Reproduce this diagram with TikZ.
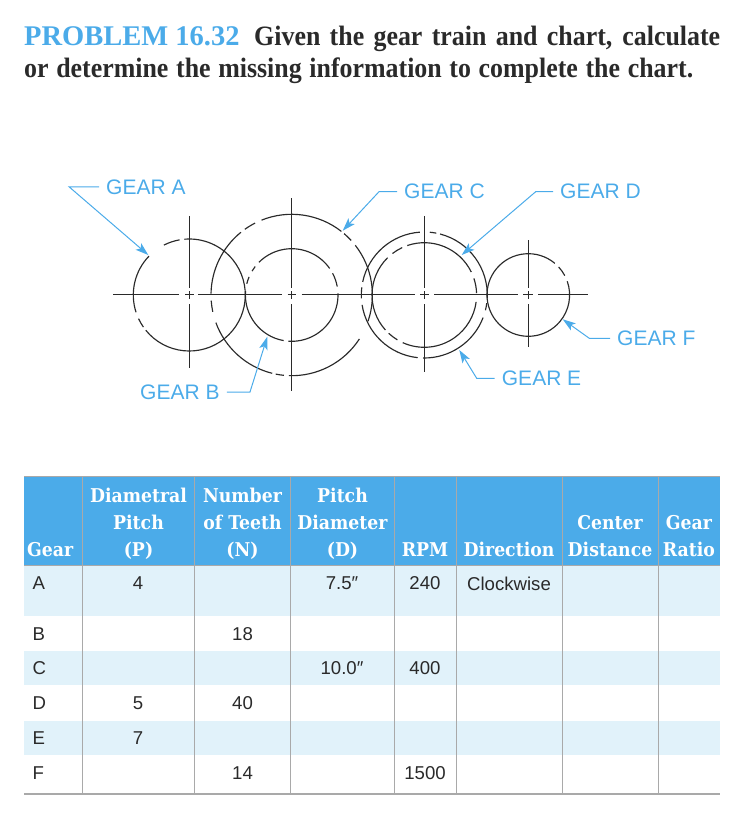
\documentclass[tikz,border=0pt]{standalone}
\usepackage{fontspec}
\usetikzlibrary{arrows.meta}
\setmainfont{Liberation Sans}
\newfontfamily\titlefont[FakeStretch=0.925]{Liberation Serif}
\newfontfamily\problemfont{Liberation Serif}
\newfontfamily\headfont[FakeStretch=0.91]{DejaVu Serif}
\definecolor{chartblue}{HTML}{4BABE9}
\definecolor{rowblue}{HTML}{E1F2FA}
\definecolor{rulegray}{HTML}{A9A9A9}
\definecolor{inkblack}{HTML}{2A2A2A}
\tikzset{
  gearline/.style={inkblack,line width=1.15pt},
  centerline/.style={inkblack,line width=1.1pt},
  leader/.style={chartblue,line width=1pt,-{Stealth[length=13pt,width=8.5pt,inset=3pt]}},
  gearlabel/.style={anchor=west,text=chartblue,font=\fontsize{21}{21}\selectfont,inner xsep=7pt,inner ysep=0pt},
  headcell/.style={text=white,align=center,font=\headfont\bfseries\fontsize{19}{27}\selectfont,inner sep=0pt},
  bodycell/.style={text=inkblack,font=\fontsize{18.6}{18.6}\selectfont,inner sep=0pt},
  titletext/.style={anchor=base west,inner sep=0pt,font=\titlefont\bfseries\fontsize{28}{28}\selectfont}
}
\newcommand{\gearcircle}[3]{%
  \foreach \a/\b in {#3}
    \draw[gearline] ([shift={(\a:#2)}]#1) arc (\a:\b:#2);
}
\begin{document}
\begin{tikzpicture}[x=1pt,y=1pt]
  \useasboundingbox (0,-834) rectangle (748,0);

  %title
  \node[titletext,text=chartblue,font=\problemfont\bfseries\fontsize{28.5}{28.5}\selectfont] (problem) at (24,-45.5) {PROBLEM 16.32};
  \node[titletext,text=inkblack] (line1) at (254,-45.5) {\makebox[466pt][s]{Given the gear train and chart, calculate}};
  \node[titletext,text=inkblack] (line2) at (24,-77.5) {\makebox[669pt][s]{or determine the missing information to complete the chart.}};

  %centers
  \coordinate (A) at (189.3,-295);
  \coordinate (C) at (291.7,-295);
  \coordinate (D) at (424.3,-295);
  \coordinate (F) at (528.3,-295);

  %circles
  \gearcircle{A}{56}{100/117,136/198,205/215,219/455}
  \gearcircle{C}{80.7}{-19/38,42.5/49.5,52/112,117/125.5,129/179,184/192,200/256,258.5/264.5,268/327}
  \gearcircle{C}{46.3}{-94/2,10.5/28,35/135,142/149,157/166,175/260}
  \gearcircle{D}{63}{269/339,346/352.5,357/435.5,79/85,94/168,173/183,189/264}
  \gearcircle{D}{52.3}{26/109,115/127.5,134.5/222,227/239,245.6/352.4,2/18.5}
  \gearcircle{F}{41.3}{28/42.7,50/379.4}

  %horizontal center line
  \foreach \xa/\xb in {113.3/179.3,185/193.5,198.3/281.7,287.7/296,301.7/415,420/429,434/518.3,523.3/533.3,538.3/588.3}
    \draw[centerline] (\xa,-294.6)--(\xb,-294.6);

  %vertical center lines
  \foreach \x/\ya/\yb in {189.3/216/368.3,291.7/198.3/390.7,424.3/216/371.7,528.3/240/347}{
    \draw[centerline] (\x,-\ya)--(\x,-288.3);
    \draw[centerline] (\x,-291)--(\x,-299);
    \draw[centerline] (\x,-304)--(\x,-\yb);
  }

  %gear labels
  \node[gearlabel] (labelA) at (99,-187) {GEAR A};
  \node[gearlabel] (labelB) at (133,-392) {GEAR B};
  \node[gearlabel] (labelC) at (397,-191.7) {GEAR C};
  \node[gearlabel] (labelD) at (553,-191.7) {GEAR D};
  \node[gearlabel] (labelE) at (494.7,-378.3) {GEAR E};
  \node[gearlabel] (labelF) at (610,-338.3) {GEAR F};

  %leaders
  \coordinate (elbowA) at (69.3,-187);
  \coordinate (tipA) at (148.3,-255);
  \coordinate (elbowB) at (250,-392);
  \coordinate (tipB) at (267.3,-336.7);
  \coordinate (elbowC) at (379,-191.7);
  \coordinate (tipC) at (342.7,-230.7);
  \coordinate (elbowD) at (535.7,-191.7);
  \coordinate (tipD) at (461.7,-255);
  \coordinate (elbowE) at (476.7,-378.3);
  \coordinate (tipE) at (459.3,-350);
  \coordinate (elbowF) at (589.3,-338.3);
  \coordinate (tipF) at (562.7,-319.3);
  \draw[leader] (labelA.west)--(elbowA)--(tipA);
  \draw[leader] (labelB.east)--(elbowB)--(tipB);
  \draw[leader] (labelC.west)--(elbowC)--(tipC);
  \draw[leader] (labelD.west)--(elbowD)--(tipD);
  \draw[leader] (labelE.west)--(elbowE)--(tipE);
  \draw[leader] (labelF.west)--(elbowF)--(tipF);

  %table fills
  \fill[chartblue] (24,-476) rectangle (720,-566);
  \fill[rowblue] (24,-566) rectangle (720,-616);
  \fill[rowblue] (24,-651) rectangle (720,-685);
  \fill[rowblue] (24,-721) rectangle (720,-755);

  %table rules
  \draw[rulegray,line width=1.1pt] (24,-476.5)--(720,-476.5);
  \draw[rulegray,line width=1.1pt] (24,-565.5)--(720,-565.5);
  \draw[rulegray,line width=1.6pt] (24,-794)--(720,-794);
  \foreach \x in {82.5,194.5,290.5,394.5,456.5,562.5,658.5}
    \draw[rulegray,line width=1.2pt] (\x,-476)--(\x,-794);

  %header
  \node[headcell,anchor=base west] (headGear) at (27,-556) {Gear};
  \node[headcell,anchor=base] (headP) at (138.5,-556) {(P)};
  \node[headcell,anchor=base] (headP2) at (138.5,-529) {Pitch};
  \node[headcell,anchor=base] (headP1) at (138.5,-502) {Diametral};
  \node[headcell,anchor=base] (headN) at (242.5,-556) {(N)};
  \node[headcell,anchor=base] (headN2) at (242.5,-529) {of Teeth};
  \node[headcell,anchor=base] (headN1) at (242.5,-502) {Number};
  \node[headcell,anchor=base] (headD) at (342.5,-556) {(D)};
  \node[headcell,anchor=base] (headD2) at (342.5,-529) {Diameter};
  \node[headcell,anchor=base] (headD1) at (342.5,-502) {Pitch};
  \node[headcell,anchor=base] (headR) at (425,-556) {RPM};
  \node[headcell,anchor=base] (headS) at (509,-556) {Direction};
  \node[headcell,anchor=base] (headC2) at (610,-556) {Distance};
  \node[headcell,anchor=base] (headC1) at (610,-529) {Center};
  \node[headcell,anchor=base] (headG2) at (689,-556) {Ratio};
  \node[headcell,anchor=base] (headG1) at (689,-529) {Gear};

  %row letters
  \foreach \n/\y in {A/583.5,B/634.5,C/668.5,D/703.5,E/738.5,F/773.5}
    \node[bodycell,anchor=west] (row\n) at (32.5,-\y) {\n};

  %values
  \node[bodycell] (cellAP) at (138,-583.5) {4};
  \node[bodycell] (cellAD) at (342,-583.5) {7.5″};
  \node[bodycell] (cellAR) at (425,-583.5) {240};
  \node[bodycell] (cellAS) at (509,-583.5) {Clockwise};
  \node[bodycell] (cellBN) at (242.5,-634.5) {18};
  \node[bodycell] (cellCD) at (342,-668.5) {10.0″};
  \node[bodycell] (cellCR) at (425,-668.5) {400};
  \node[bodycell] (cellDP) at (138,-703.5) {5};
  \node[bodycell] (cellDN) at (242.5,-703.5) {40};
  \node[bodycell] (cellEP) at (138,-738.5) {7};
  \node[bodycell] (cellFN) at (242.5,-773.5) {14};
  \node[bodycell] (cellFR) at (425,-773.5) {1500};
\end{tikzpicture}
\end{document}
